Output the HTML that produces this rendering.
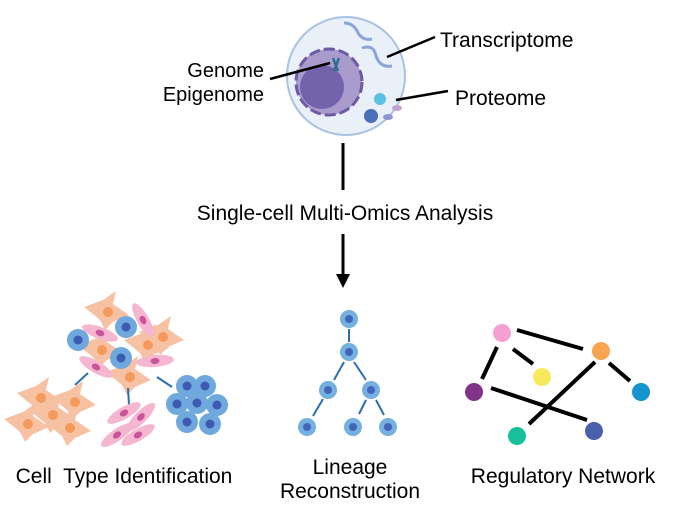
<!DOCTYPE html>
<html><head><style>
body{margin:0;background:#fff;}
svg{display:block;font-family:"Liberation Sans",Arial,sans-serif;}
</style></head><body>
<svg width="685" height="513" viewBox="0 0 685 513" xmlns="http://www.w3.org/2000/svg">
<defs>
<g id="bc"><circle r="11" fill="#6fa8dc"/><circle r="4.5" fill="#3d5bb0"/></g>
<g id="lc"><circle r="9" fill="#74b0e0"/><circle r="4" fill="#4466b8"/></g>
<g id="oc"><path d="M-24,-5 L-5,-12 L8,-21 L5,-8 L21,3 L5,10 L-3,18 L-8,8 Z" fill="#f7c2a3"/><circle r="5" fill="#f59a5b"/></g>
<g id="pc"><ellipse rx="19" ry="6" fill="#f5b6d0"/><ellipse rx="4.5" ry="3" fill="#c8549a"/></g>
</defs>
<!-- cell -->
<circle cx="346" cy="76" r="59" fill="#eaf0f8" stroke="#a9c1e2" stroke-width="2"/>
<circle cx="329" cy="82" r="33" fill="#a99ccd" stroke="#6d5aa4" stroke-width="3" stroke-dasharray="11 4"/>
<circle cx="322" cy="87" r="22" fill="#7363ad"/>
<path d="M333,58 l5,13 M339,58 l-5,13" stroke="#2c6f8e" stroke-width="2.5"/>
<path d="M344,23 q10,0 14,10 q5,8 14,6" stroke="#8ea3d6" stroke-width="3" fill="none"/>
<path d="M362,48 q12,-4 14,8 q4,12 16,10" stroke="#8ea3d6" stroke-width="3" fill="none"/>
<circle cx="380" cy="99" r="6" fill="#5cc0e3"/>
<circle cx="371" cy="116" r="7" fill="#4a6fb6"/>
<ellipse cx="388" cy="117" rx="5" ry="3" fill="#8c95d2"/>
<ellipse cx="397" cy="108" rx="5" ry="3" fill="#c6a2d0"/>
<line x1="270" y1="79" x2="330" y2="63" stroke="#000" stroke-width="2.5"/>
<line x1="387" y1="57" x2="435" y2="37" stroke="#000" stroke-width="2.5"/>
<line x1="396" y1="100" x2="448" y2="91" stroke="#000" stroke-width="2.5"/>
<text x="440" y="47" font-size="21">Transcriptome</text>
<text x="264" y="77" font-size="20" text-anchor="end">Genome</text>
<text x="264" y="101" font-size="20" text-anchor="end">Epigenome</text>
<text x="455" y="105" font-size="21">Proteome</text>
<line x1="343" y1="143" x2="343" y2="190" stroke="#000" stroke-width="3"/>
<text x="345" y="220" font-size="21" text-anchor="middle">Single-cell Multi-Omics Analysis</text>
<line x1="343" y1="234" x2="343" y2="276" stroke="#000" stroke-width="3"/>
<path d="M336,274 L350,274 L343,288 Z" fill="#000"/>
<!-- cell type cluster -->
<use href="#oc" x="108" y="312"/><use href="#oc" x="148" y="345"/><use href="#oc" x="102" y="350"/>
<use href="#oc" x="163" y="337"/><use href="#oc" x="130" y="377"/>
<use href="#pc" x="100" y="333" transform="rotate(20 100 333)"/><use href="#pc" x="143" y="320" transform="rotate(60 143 320)"/>
<use href="#pc" x="96" y="367" transform="rotate(30 96 367)"/><use href="#pc" x="155" y="361" transform="rotate(-5 155 361)"/>
<use href="#bc" x="78" y="340"/><use href="#bc" x="126" y="327"/><use href="#bc" x="121" y="358"/>
<line x1="75" y1="385" x2="88" y2="373" stroke="#2a6fb0" stroke-width="2"/>
<line x1="128" y1="388" x2="129" y2="405" stroke="#2a6fb0" stroke-width="2"/>
<line x1="157" y1="377" x2="172" y2="387" stroke="#2a6fb0" stroke-width="2"/>
<use href="#oc" x="41" y="398"/><use href="#oc" x="75" y="402"/><use href="#oc" x="53" y="415"/>
<use href="#oc" x="28" y="424"/><use href="#oc" x="70" y="428"/>
<use href="#pc" x="124" y="413" transform="rotate(-30 124 413)"/><use href="#pc" x="141" y="417" transform="rotate(-45 141 417)"/>
<use href="#pc" x="117" y="435" transform="rotate(-35 117 435)"/><use href="#pc" x="138" y="435" transform="rotate(-30 138 435)"/>
<use href="#bc" x="187" y="386"/><use href="#bc" x="205" y="386"/><use href="#bc" x="177" y="404"/>
<use href="#bc" x="197" y="403"/><use href="#bc" x="217" y="405"/><use href="#bc" x="187" y="422"/><use href="#bc" x="210" y="424"/>
<!-- lineage -->
<g stroke="#2a6fb0" stroke-width="2">
<line x1="349" y1="329" x2="349" y2="342"/><line x1="344" y1="362" x2="334" y2="380"/><line x1="354" y1="362" x2="366" y2="380"/>
<line x1="323" y1="399" x2="313" y2="416"/><line x1="366" y1="400" x2="359" y2="414"/><line x1="376" y1="400" x2="384" y2="415"/>
</g>
<use href="#lc" x="349" y="319"/><use href="#lc" x="349" y="352"/><use href="#lc" x="328" y="390"/><use href="#lc" x="371" y="390"/>
<use href="#lc" x="307" y="427"/><use href="#lc" x="353" y="427"/><use href="#lc" x="388" y="427"/>
<!-- network -->
<g stroke="#000" stroke-width="4">
<line x1="517" y1="330" x2="583" y2="349"/><line x1="513" y1="349" x2="533" y2="364"/><line x1="497" y1="347" x2="482" y2="379"/>
<line x1="491" y1="388" x2="587" y2="420"/><line x1="595" y1="362" x2="529" y2="424"/><line x1="609" y1="363" x2="630" y2="381"/>
</g>
<circle cx="502" cy="333" r="9" fill="#f59fd3"/><circle cx="601" cy="351" r="9" fill="#f8a450"/>
<circle cx="542" cy="377" r="9" fill="#f8e85e"/><circle cx="474" cy="392" r="9" fill="#7f3488"/>
<circle cx="641" cy="392" r="9" fill="#1494cb"/><circle cx="517" cy="436" r="9" fill="#17c09a"/>
<circle cx="594" cy="431" r="9" fill="#4a60aa"/>
<text x="124" y="483" font-size="21" text-anchor="middle" xml:space="preserve">Cell  Type Identification</text>
<text x="350" y="474" font-size="21" text-anchor="middle">Lineage</text>
<text x="350" y="498" font-size="21" text-anchor="middle">Reconstruction</text>
<text x="563" y="483" font-size="21" text-anchor="middle">Regulatory Network</text>
</svg>
</body></html>
